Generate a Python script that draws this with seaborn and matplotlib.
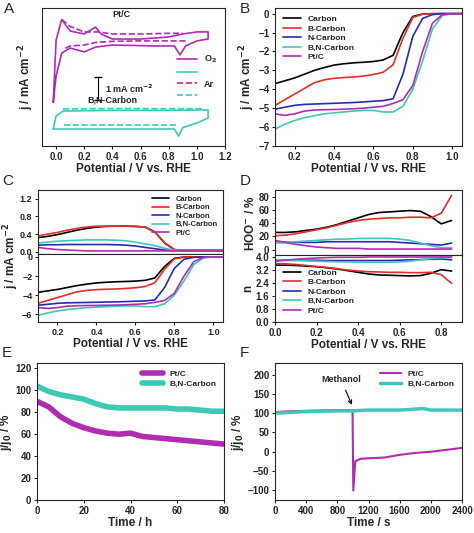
import numpy as np
import seaborn as sns
import matplotlib.pyplot as plt
from matplotlib.lines import Line2D

sns.set_style("ticks")
plt.rcParams['font.family'] = ['Liberation Sans', 'DejaVu Sans']
plt.rcParams['font.weight'] = 'bold'
plt.rcParams['axes.labelweight'] = 'bold'
plt.rcParams['font.size'] = 7
plt.rcParams['axes.linewidth'] = 0.8

names = ['Carbon', 'B-Carbon', 'N-Carbon', 'B,N-Carbon', 'Pt/C']
colors = ['#000000', '#e0302e', '#2a2ab0', '#3ec8b6', '#b02cb0']

# ---- A: CV (arbitrary offset, mA) ----
pt_o2_x = [-0.02, 0.0, 0.04, 0.1, 0.2, 0.28, 0.32, 0.4, 0.6, 0.8, 0.9, 1.0, 1.08,
           1.08, 1.0, 0.92, 0.88, 0.84, 0.7, 0.4, 0.28, 0.2, 0.1, 0.04, 0.0, -0.02]
pt_o2_y = [1.9, 4.6, 5.5, 5.0, 4.87, 5.17, 4.87, 4.65, 4.65, 4.74, 4.87, 4.96, 4.96,
           4.65, 4.57, 4.35, 3.96, 4.35, 4.35, 4.39, 4.3, 4.09, 4.26, 4.04, 3.04, 1.9]
pt_ar_x = [0.04, 0.1, 0.2, 0.3, 0.4, 0.6, 0.8, 0.9, None, 0.92, 0.8, 0.6, 0.4, 0.28, 0.2, 0.1, 0.05]
pt_ar_y = [5.5, 5.2, 4.96, 4.96, 4.87, 4.87, 4.9, 4.9, None, 4.57, 4.57, 4.57, 4.55, 4.5, 4.39, 4.35, 4.2]
bn_o2_x = [-0.02, 0.0, 0.05, 0.4, 0.8, 1.08, 1.08, 1.0, 0.9, 0.87, 0.84, 0.6, 0.2, 0.0, -0.02]
bn_o2_y = [0.74, 1.3, 1.52, 1.55, 1.55, 1.57, 1.22, 1.0, 0.8, 0.43, 0.74, 0.74, 0.74, 0.74, 0.74]
bn_ar_x = [0.05, 0.4, 0.8, 1.05, None, 0.85, 0.6, 0.2, 0.05]
bn_ar_y = [1.61, 1.63, 1.62, 1.62, None, 0.91, 0.91, 0.91, 0.91]

# ---- B/C: LSV ----
V = [0.1, 0.15, 0.2, 0.25, 0.3, 0.35, 0.4, 0.45, 0.5, 0.55, 0.6, 0.65, 0.7, 0.75,
     0.8, 0.85, 0.9, 0.95, 1.0, 1.05]
disk = [
    [-3.7, -3.55, -3.4, -3.2, -3.0, -2.85, -2.72, -2.65, -2.6, -2.57, -2.53, -2.45, -2.2, -1.0, -0.15, -0.02, 0, 0, 0, 0],
    [-4.85, -4.55, -4.25, -3.95, -3.65, -3.5, -3.42, -3.38, -3.35, -3.3, -3.22, -3.1, -2.7, -1.3, -0.2, -0.03, 0, 0, 0, 0],
    [-5.05, -4.95, -4.85, -4.8, -4.78, -4.76, -4.74, -4.72, -4.7, -4.67, -4.63, -4.6, -4.5, -3.2, -1.2, -0.25, -0.05, 0, 0, 0],
    [-6.1, -5.85, -5.65, -5.5, -5.4, -5.3, -5.25, -5.2, -5.15, -5.12, -5.12, -5.2, -5.2, -4.9, -4.0, -2.5, -0.8, -0.1, 0, 0],
    [-5.3, -5.38, -5.3, -5.15, -5.1, -5.08, -5.07, -5.05, -5.03, -5.0, -4.95, -4.9, -4.75, -4.55, -3.8, -2.0, -0.5, -0.05, 0, 0],
]
ring = [
    [0.32, 0.35, 0.39, 0.44, 0.49, 0.53, 0.56, 0.575, 0.58, 0.58, 0.575, 0.56, 0.45, 0.2, 0.05, 0.03, 0.03, 0.03, 0.03, 0.03],
    [0.36, 0.4, 0.44, 0.49, 0.53, 0.56, 0.58, 0.58, 0.58, 0.58, 0.575, 0.56, 0.45, 0.2, 0.05, 0.03, 0.03, 0.03, 0.03, 0.03],
    [0.15, 0.16, 0.16, 0.165, 0.165, 0.165, 0.165, 0.165, 0.16, 0.15, 0.13, 0.1, 0.07, 0.04, 0.03, 0.03, 0.03, 0.03, 0.03, 0.03],
    [0.2, 0.22, 0.24, 0.25, 0.26, 0.27, 0.27, 0.27, 0.26, 0.25, 0.22, 0.18, 0.14, 0.08, 0.04, 0.03, 0.03, 0.03, 0.03, 0.03],
    [0.1, 0.07, 0.05, 0.04, 0.03, 0.02, 0.02, 0.02, 0.02, 0.02, 0.02, 0.02, 0.02, 0.02, 0.02, 0.02, 0.02, 0.02, 0.02, 0.02],
]

# ---- D: HOO- % and n ----
VD = [0.0, 0.05, 0.1, 0.15, 0.2, 0.25, 0.3, 0.35, 0.4, 0.45, 0.5, 0.55, 0.6, 0.65, 0.7, 0.75, 0.8, 0.85]
hoo = [
    [26, 26, 27, 29, 31, 34, 38, 43, 48, 53, 56, 57, 58, 59, 58, 50, 39, 44],
    [21, 22, 24, 27, 30, 33, 37, 41, 44, 46, 47, 48, 48, 49, 49, 48, 55, 82],
    [11, 11, 11, 11, 11, 12, 12, 12, 12, 12, 12, 12, 11, 10, 9, 8, 7, 10],
    [10, 11, 12, 13, 14, 15, 16, 16, 17, 17, 17, 17, 16, 14, 10, 6, 3, 3],
    [14, 11, 8, 6, 4, 3, 2, 2, 2, 1, 1, 1, 1, 1, 1, 1, 1, 1],
]
n_e = [
    [3.48, 3.48, 3.46, 3.42, 3.38, 3.32, 3.24, 3.14, 3.04, 2.94, 2.88, 2.86, 2.84, 2.82, 2.84, 2.98, 3.2, 3.12],
    [3.58, 3.56, 3.52, 3.46, 3.4, 3.34, 3.26, 3.18, 3.12, 3.08, 3.06, 3.04, 3.04, 3.02, 3.02, 3.04, 2.9, 2.36],
    [3.78, 3.78, 3.78, 3.78, 3.78, 3.76, 3.76, 3.76, 3.76, 3.76, 3.76, 3.76, 3.78, 3.8, 3.82, 3.84, 3.86, 3.8],
    [3.8, 3.78, 3.76, 3.74, 3.72, 3.7, 3.68, 3.68, 3.66, 3.66, 3.66, 3.66, 3.68, 3.72, 3.8, 3.88, 3.94, 3.94],
    [3.72, 3.78, 3.84, 3.88, 3.92, 3.94, 3.96, 3.96, 3.96, 3.98, 3.98, 3.98, 3.98, 3.98, 3.98, 3.98, 3.98, 3.98],
]

# ---- E: durability ----
tE = [0, 5, 10, 15, 20, 25, 30, 35, 40, 45, 50, 55, 60, 65, 70, 75, 80]
ptE = [90, 85, 76, 70, 66, 63, 61, 60, 61, 58, 57, 56, 55, 54, 53, 52, 51]
bnE = [104, 99, 96, 94, 92, 88, 85, 84, 84, 84, 84, 84, 83, 83, 82, 81, 81]

# ---- F: methanol tolerance ----
tF_pt = [0, 200, 400, 600, 800, 995, 1005, 1030, 1100, 1400, 1600, 1800, 2000, 2200, 2400]
ptF = [103, 105, 106, 107, 108, 108, -100, -25, -18, -15, -8, -3, 0, 5, 10]
tF_bn = [0, 400, 800, 1000, 1200, 1600, 1900, 2000, 2400]
bnF = [100, 104, 106, 106, 108, 108, 112, 108, 108]

W, H = 474, 533
fig = plt.figure(figsize=(W / 100, H / 100), dpi=100)


def ax_px(x0, y0, x1, y1):
    return fig.add_axes([x0 / W, 1 - y1 / H, (x1 - x0) / W, (y1 - y0) / H])


def lp(ax, x, y, **kw):
    x = np.array([np.nan if v is None else v for v in x], dtype=float)
    y = np.array([np.nan if v is None else v for v in y], dtype=float)
    if np.isnan(x).any():
        idx = np.where(np.isnan(x))[0][0]
        lp(ax, x[:idx], y[:idx], **kw)
        kw.pop('label', None)
        lp(ax, x[idx + 1:], y[idx + 1:], **kw)
        return
    sns.lineplot(x=x, y=y, ax=ax, sort=False, estimator=None, **kw)


def letter(x, y, s):
    fig.text(x / W, 1 - y / H, s, fontsize=11, fontweight='normal', va='top')


xl = 'Potential / V vs. RHE'

# A
axA = ax_px(42, 8, 225, 146)
lp(axA, pt_o2_x, pt_o2_y, color=colors[4], lw=1.2)
lp(axA, pt_ar_x, pt_ar_y, color=colors[4], lw=1.2, linestyle='--')
lp(axA, bn_o2_x, bn_o2_y, color=colors[3], lw=1.2)
lp(axA, bn_ar_x, bn_ar_y, color=colors[3], lw=1.2, linestyle='--')
axA.set_xlim(-0.1, 1.2)
axA.set_ylim(0, 6)
axA.set_yticks([])
axA.set_xticks(np.arange(0, 1.21, 0.2))
axA.set_xlabel(xl, fontsize=8.5, labelpad=1)
axA.set_ylabel('j / mA cm$^{-2}$', fontsize=8.5, labelpad=4)
axA.errorbar([0.3], [2.5], yerr=0.5, color='k', capsize=3, lw=0.8)
axA.text(0.35, 2.5, '1 mA cm$^{-2}$', va='center', fontsize=6.5)
axA.text(0.4, 5.6, 'Pt/C', fontsize=6.5)
axA.text(0.22, 1.9, 'B,N-Carbon', fontsize=6.5)
hA = [Line2D([], [], color=colors[4], lw=1.2), Line2D([], [], color=colors[3], lw=1.2),
      Line2D([], [], color=colors[4], lw=1.2, ls='--'), Line2D([], [], color=colors[3], lw=1.2, ls='--')]
axA.legend(hA, ['O$_2$', '', 'Ar', ''], loc='center right', bbox_to_anchor=(1.0, 0.5),
           frameon=False, fontsize=6.5, handlelength=2.2, labelspacing=0.3)
letter(4, 2, 'A')

# B
axB = ax_px(275, 8, 462, 146)
for nm, c, d in zip(names, colors, disk):
    lp(axB, V, d, color=c, lw=1.2, label=nm)
axB.set_xlim(0.1, 1.05)
axB.set_ylim(-7, 0.3)
axB.set_yticks(range(-7, 1))
axB.set_xticks([0.2, 0.4, 0.6, 0.8, 1.0])
axB.set_xlabel(xl, fontsize=8.5, labelpad=1)
axB.set_ylabel('j / mA cm$^{-2}$', fontsize=8.5, labelpad=1)
axB.legend(loc='upper left', frameon=False, fontsize=6, handlelength=2.2, labelspacing=0.2)
letter(240, 2, 'B')

# C
axCt = ax_px(38, 190, 223, 254)
axCb = ax_px(38, 254, 223, 322)
for nm, c, d, r in zip(names, colors, disk, ring):
    lp(axCt, V, r, color=c, lw=1.2, label=nm)
    lp(axCb, V, d, color=c, lw=1.2)
axCt.set_xlim(0.1, 1.05)
axCb.set_xlim(0.1, 1.05)
axCt.set_ylim(-0.05, 1.4)
axCt.set_yticks([0.0, 0.4, 0.8, 1.2])
axCt.set_xticks([])
axCb.set_ylim(-6.8, 0.3)
axCb.set_yticks([-6, -4, -2, 0])
axCb.set_xticks([0.2, 0.4, 0.6, 0.8, 1.0])
axCb.set_xlabel(xl, fontsize=8.5, labelpad=1)
fig.text(1 / W, 1 - 256 / H, 'j / mA cm$^{-2}$', rotation=90, va='center', ha='left',
         fontsize=8.5, fontweight='bold')
axCt.legend(loc='upper right', frameon=False, fontsize=5.5, handlelength=2.2, labelspacing=0.15,
            borderpad=0.2)
letter(2, 174, 'C')

# D
axDt = ax_px(275, 190, 462, 255)
axDb = ax_px(275, 255, 462, 322)
for nm, c, h, n in zip(names, colors, hoo, n_e):
    lp(axDt, VD, h, color=c, lw=1.2)
    lp(axDb, VD, n, color=c, lw=1.2, label=nm)
axDt.set_xlim(0, 0.9)
axDb.set_xlim(0, 0.9)
axDt.set_ylim(-8, 90)
axDt.set_yticks([0, 20, 40, 60, 80])
axDt.set_xticks([])
axDt.set_ylabel('HOO$^{-}$ / %', fontsize=8.5, labelpad=1)
axDb.set_ylim(0, 4.1)
axDb.set_yticks([0.0, 0.8, 1.6, 2.4, 3.2, 4.0])
axDb.set_xticks([0.0, 0.2, 0.4, 0.6, 0.8])
axDb.set_ylabel('n', fontsize=8.5, labelpad=1)
axDb.set_xlabel(xl, fontsize=8.5, labelpad=1)
axDb.legend(loc='lower left', frameon=False, fontsize=6, handlelength=2.2, labelspacing=0.2)
letter(240, 174, 'D')

# E
axE = ax_px(37, 363, 224, 500)
lp(axE, tE, ptE, color=colors[4], lw=4, label='Pt/C')
lp(axE, tE, bnE, color=colors[3], lw=4, label='B,N-Carbon')
axE.set_xlim(0, 80)
axE.set_ylim(0, 125)
axE.set_yticks(range(0, 121, 20))
axE.set_xlabel('Time / h', fontsize=8.5, labelpad=1)
axE.set_ylabel('j/j$_0$ / %', fontsize=8.5, labelpad=1)
axE.legend(loc='upper right', frameon=False, fontsize=6, handlelength=2.5, labelspacing=0.2)
letter(2, 346, 'E')

# F
axF = ax_px(275, 363, 462, 500)
lp(axF, tF_pt, ptF, color=colors[4], lw=1.5, label='Pt/C')
lp(axF, tF_bn, bnF, color=colors[3], lw=2.5, label='B,N-Carbon')
axF.set_xlim(0, 2400)
axF.set_ylim(-125, 230)
axF.set_yticks(range(-100, 201, 50))
axF.set_xticks(range(0, 2401, 400))
axF.set_xlabel('Time / s', fontsize=8.5, labelpad=1)
axF.set_ylabel('j/j$_0$ / %', fontsize=8.5, labelpad=1)
axF.legend(loc='upper right', frameon=False, fontsize=6, handlelength=2.5, labelspacing=0.2)
axF.annotate('Methanol', xy=(1000, 115), xytext=(850, 180), ha='center', fontsize=6.5,
             arrowprops=dict(arrowstyle='->', color='k', lw=0.8))
letter(240, 346, 'F')

for ax in fig.axes:
    ax.tick_params(labelsize=7, length=2.5, pad=1.5)
    for lab in ax.get_xticklabels() + ax.get_yticklabels():
        lab.set_fontweight('bold')
axCt.tick_params(labelsize=6.5)
axCb.tick_params(labelsize=6.5)

fig.savefig('out.png', dpi=100)
